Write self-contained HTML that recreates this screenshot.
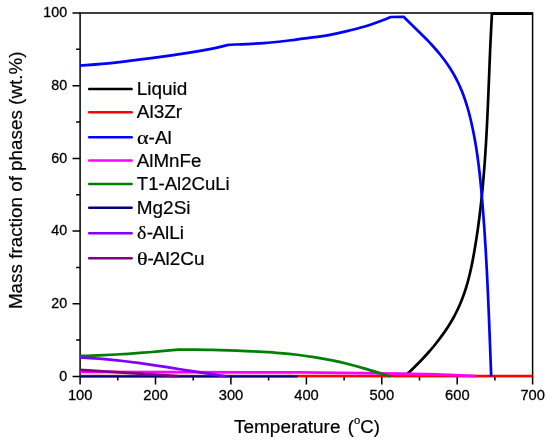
<!DOCTYPE html><html><head><meta charset="utf-8"><title>Mass fraction of phases</title><style>html,body{margin:0;padding:0;background:#fff}svg{display:block}text{font-family:"Liberation Sans",Arial,sans-serif;fill:#000}.g{font-family:"Liberation Serif","DejaVu Serif",serif}</style></head><body>
<svg width="550" height="442" viewBox="0 0 550 442">
<rect width="550" height="442" fill="#fff"/>
<rect x="80.1" y="13.0" width="452.5" height="363.4" fill="none" stroke="#000" stroke-width="1.5"/>
<path d="M80.1 376.4h-7.6M80.1 340.1h-4.0M80.1 303.7h-7.6M80.1 267.4h-4.0M80.1 231.0h-7.6M80.1 194.7h-4.0M80.1 158.4h-7.6M80.1 122.0h-4.0M80.1 85.7h-7.6M80.1 49.3h-4.0M80.1 13.0h-7.6M80.1 376.4v8.0M117.8 376.4v4.0M155.5 376.4v8.0M193.2 376.4v4.0M230.9 376.4v8.0M268.6 376.4v4.0M306.4 376.4v8.0M344.1 376.4v4.0M381.8 376.4v8.0M419.5 376.4v4.0M457.2 376.4v8.0M494.9 376.4v4.0M532.6 376.4v8.0" stroke="#000" stroke-width="1.5" fill="none"/>
<g font-size="15.0" stroke="#000" stroke-width="0.3">
<text transform="translate(67.1,380.6) scale(0.95,1)" text-anchor="end">0</text>
<text transform="translate(67.1,307.9) scale(0.95,1)" text-anchor="end">20</text>
<text transform="translate(67.1,235.2) scale(0.95,1)" text-anchor="end">40</text>
<text transform="translate(67.1,162.6) scale(0.95,1)" text-anchor="end">60</text>
<text transform="translate(67.1,89.9) scale(0.95,1)" text-anchor="end">80</text>
<text transform="translate(67.1,17.2) scale(0.95,1)" text-anchor="end">100</text>
<text transform="translate(80.2,400.4) scale(0.95,1)" font-size="15.5" text-anchor="middle">100</text>
<text transform="translate(155.6,400.4) scale(0.95,1)" font-size="15.5" text-anchor="middle">200</text>
<text transform="translate(231.0,400.4) scale(0.95,1)" font-size="15.5" text-anchor="middle">300</text>
<text transform="translate(306.5,400.4) scale(0.95,1)" font-size="15.5" text-anchor="middle">400</text>
<text transform="translate(381.9,400.4) scale(0.95,1)" font-size="15.5" text-anchor="middle">500</text>
<text transform="translate(457.3,400.4) scale(0.95,1)" font-size="15.5" text-anchor="middle">600</text>
<text transform="translate(532.7,400.4) scale(0.95,1)" font-size="15.5" text-anchor="middle">700</text>
</g>
<clipPath id="c"><rect x="80.1" y="12.1" width="453.5" height="365.8"/></clipPath>
<g clip-path="url(#c)">
<path fill="none" stroke="#000" stroke-width="2.7" stroke-linejoin="round" d="M404.15 375.90C405.02 375.25 407.63 373.48 409.37 372.00C411.10 370.52 412.86 368.67 414.55 367.00C416.25 365.33 417.91 363.67 419.54 362.00C421.17 360.33 422.76 358.67 424.31 357.00C425.86 355.33 427.38 353.67 428.84 352.00C430.31 350.33 431.74 348.67 433.12 347.00C434.50 345.33 435.83 343.67 437.13 342.00C438.42 340.33 439.65 338.67 440.88 337.00C442.11 335.33 443.36 333.67 444.52 332.00C445.69 330.33 446.81 328.67 447.89 327.00C448.96 325.33 449.99 323.67 450.98 322.00C451.97 320.33 452.92 318.67 453.83 317.00C454.73 315.33 455.60 313.67 456.42 312.00C457.25 310.33 458.04 308.67 458.79 307.00C459.55 305.33 460.26 303.67 460.95 302.00C461.63 300.33 462.28 298.67 462.90 297.00C463.52 295.33 464.11 293.67 464.67 292.00C465.24 290.33 465.77 288.67 466.28 287.00C466.79 285.33 467.19 284.00 467.73 282.00C468.28 280.00 468.98 277.33 469.55 275.00C470.12 272.67 470.61 270.50 471.14 268.00C471.68 265.50 472.19 263.00 472.76 260.00C473.32 257.00 473.98 253.33 474.55 250.00C475.13 246.67 475.62 243.67 476.19 240.00C476.76 236.33 477.39 232.17 477.97 228.00C478.55 223.83 479.11 219.67 479.68 215.00C480.26 210.33 480.87 205.00 481.41 200.00C481.94 195.00 482.37 190.83 482.89 185.00C483.41 179.17 484.04 171.67 484.54 165.00C485.04 158.33 485.47 151.67 485.88 145.00C486.29 138.33 486.61 132.50 486.98 125.00C487.35 117.50 487.76 108.33 488.12 100.00C488.48 91.67 488.76 84.17 489.14 75.00C489.51 65.83 489.91 55.23 490.37 45.00C490.84 34.77 491.67 18.83 491.93 13.60L532.60 13.60"/>
<polyline fill="none" stroke="#f00" stroke-width="2.5" stroke-linejoin="round" points="80.0,376.1 532.6,376.1"/>
<path fill="none" stroke="#00f" stroke-width="2.7" stroke-linejoin="round" d="M80.00 65.60C85.50 65.13 101.12 64.03 113.00 62.80C124.88 61.57 138.55 59.90 151.30 58.20C164.05 56.50 178.88 54.28 189.50 52.60C200.12 50.92 208.50 49.40 215.00 48.10C221.50 46.80 226.25 45.35 228.50 44.80C234.35 44.52 253.52 43.82 263.60 43.10C273.68 42.38 280.52 41.48 289.00 40.50C297.48 39.52 307.67 38.15 314.50 37.20C321.33 36.25 324.25 35.90 330.00 34.80C335.75 33.70 342.67 32.15 349.00 30.60C355.33 29.05 361.00 27.77 368.00 25.50C375.00 23.23 387.17 18.42 391.00 17.00L403.60 16.80L427.24 40.00C427.95 40.75 430.09 43.00 431.47 44.50C432.84 46.00 434.11 47.42 435.48 49.00C436.85 50.58 438.33 52.33 439.69 54.00C441.04 55.67 442.35 57.33 443.61 59.00C444.87 60.67 445.98 62.17 447.24 64.00C448.50 65.83 449.94 68.00 451.18 70.00C452.43 72.00 453.59 74.00 454.69 76.00C455.80 78.00 456.83 80.00 457.80 82.00C458.78 84.00 459.69 86.00 460.55 88.00C461.42 90.00 462.22 92.00 462.98 94.00C463.74 96.00 464.36 97.67 465.13 100.00C465.90 102.33 466.85 105.33 467.62 108.00C468.39 110.67 469.06 113.17 469.77 116.00C470.48 118.83 471.19 121.83 471.89 125.00C472.59 128.17 473.29 131.50 473.96 135.00C474.63 138.50 475.28 142.17 475.91 146.00C476.54 149.83 477.12 153.67 477.71 158.00C478.31 162.33 478.90 167.00 479.46 172.00C480.03 177.00 480.58 182.50 481.10 188.00C481.62 193.50 482.08 198.83 482.58 205.00C483.08 211.17 483.57 217.50 484.09 225.00C484.61 232.50 485.17 240.83 485.70 250.00C486.24 259.17 486.81 270.00 487.30 280.00C487.79 290.00 488.21 299.83 488.64 310.00C489.07 320.17 489.43 329.93 489.86 341.00C490.28 352.07 490.97 370.50 491.19 376.40"/>
<polyline fill="none" stroke="#f0f" stroke-width="2.8" stroke-linejoin="round" points="80.0,371.9 300.0,372.4 400.0,373.7 436.0,374.5 454.5,375.2 476.0,376.2"/>
<path fill="none" stroke="#008000" stroke-width="2.7" stroke-linejoin="round" d="M80.00 355.95C82.00 355.89 88.00 355.72 92.00 355.58C96.00 355.44 100.00 355.28 104.00 355.10C108.00 354.91 112.00 354.71 116.00 354.50C120.00 354.28 124.00 354.04 128.00 353.78C132.00 353.52 136.00 353.25 140.00 352.95C144.00 352.65 148.00 352.34 152.00 352.00C156.00 351.67 159.63 351.35 164.00 350.94C168.37 350.53 175.83 349.77 178.20 349.54C181.00 349.57 189.37 349.63 195.00 349.70C200.63 349.77 206.33 349.85 212.00 349.97C217.67 350.09 223.33 350.23 229.00 350.41C234.67 350.59 240.33 350.79 246.00 351.04C251.67 351.28 257.33 351.55 263.00 351.88C268.67 352.22 274.33 352.58 280.00 353.06C285.67 353.53 291.33 354.07 297.00 354.74C302.67 355.42 308.33 356.19 314.00 357.10C319.67 358.01 325.33 359.03 331.00 360.18C336.67 361.34 342.33 362.62 348.00 364.02C353.67 365.43 359.67 367.09 365.00 368.62C370.33 370.14 375.75 371.85 380.00 373.17C384.25 374.50 388.75 376.01 390.50 376.57"/>
<polyline fill="none" stroke="#000080" stroke-width="1.9" stroke-linejoin="round" points="80.0,376.5 297.7,376.5"/>
<path fill="none" stroke="#8000ff" stroke-width="2.7" stroke-linejoin="round" d="M80.00 357.49C82.50 357.63 90.00 357.98 95.00 358.34C100.00 358.70 105.00 359.14 110.00 359.63C115.00 360.12 120.00 360.68 125.00 361.27C130.00 361.87 135.00 362.53 140.00 363.21C145.00 363.89 150.00 364.62 155.00 365.36C160.00 366.10 165.00 366.88 170.00 367.65C175.00 368.43 180.00 369.23 185.00 370.02C190.00 370.81 195.00 371.61 200.00 372.38C205.00 373.16 210.58 374.02 215.00 374.68C219.42 375.33 224.58 376.06 226.50 376.34"/>
<polyline fill="none" stroke="#800080" stroke-width="2.7" stroke-linejoin="round" points="80.0,369.9 178.0,376.2"/>
</g>
<g font-size="18.5" stroke="#000" stroke-width="0.2">
<line x1="89.2" x2="131.6" y1="88.9" y2="88.9" stroke="#000" stroke-width="2.5" stroke-linecap="round"/>
<text transform="translate(136.8,94.8) scale(1.025,1)">Liquid</text>
<line x1="89.2" x2="131.6" y1="112.2" y2="112.2" stroke="#f00" stroke-width="2.5" stroke-linecap="round"/>
<text transform="translate(136.8,117.6) scale(1.025,1)">Al3Zr</text>
<line x1="89.2" x2="131.6" y1="137.3" y2="137.3" stroke="#00f" stroke-width="2.5" stroke-linecap="round"/>
<text class="g" transform="translate(137.0,143.7) scale(1.2,1.03)">α</text>
<text transform="translate(148.6,143.7) scale(1.025,1)">-Al</text>
<line x1="89.2" x2="131.6" y1="160.6" y2="160.6" stroke="#f0f" stroke-width="2.5" stroke-linecap="round"/>
<text transform="translate(136.8,166.5) scale(1.013,1)">AlMnFe</text>
<line x1="89.2" x2="131.6" y1="184.1" y2="184.1" stroke="#008000" stroke-width="2.5" stroke-linecap="round"/>
<text transform="translate(136.8,189.9) scale(1.005,1)">T1-Al2CuLi</text>
<line x1="89.2" x2="131.6" y1="207.8" y2="207.8" stroke="#000080" stroke-width="2.5" stroke-linecap="round"/>
<text transform="translate(136.8,213.6) scale(1.025,1)">Mg2Si</text>
<line x1="89.2" x2="131.6" y1="233.2" y2="233.2" stroke="#8000ff" stroke-width="2.5" stroke-linecap="round"/>
<text class="g" transform="translate(137.0,238.8) scale(1.08,1.05)">δ</text>
<text transform="translate(146.8,238.8) scale(1.025,1)">-<tspan dx="-0.7">AlLi</tspan></text>
<line x1="89.2" x2="131.6" y1="258.3" y2="258.3" stroke="#800080" stroke-width="2.5" stroke-linecap="round"/>
<text class="g" transform="translate(137.0,264.5) scale(1.2,1.03)">θ</text>
<text transform="translate(147.6,264.5) scale(1.025,1)">-<tspan dx="-1.0">Al2Cu</tspan></text>
</g>
<g font-size="18.7" stroke="#000" stroke-width="0.2"><text transform="translate(234.0,432.6) scale(1.015,1)">Temperature</text><text transform="translate(347.8,432.6) scale(0.99,1)">(<tspan font-size="11.5" dy="-8.3">o</tspan><tspan dy="8.3">C)</tspan></text></g>
<text transform="translate(21.9,180.3) rotate(-90) scale(1.008,1)" stroke="#000" stroke-width="0.2" font-size="18.7" text-anchor="middle">Mass fraction of phases (wt.%)</text>
</svg></body></html>
